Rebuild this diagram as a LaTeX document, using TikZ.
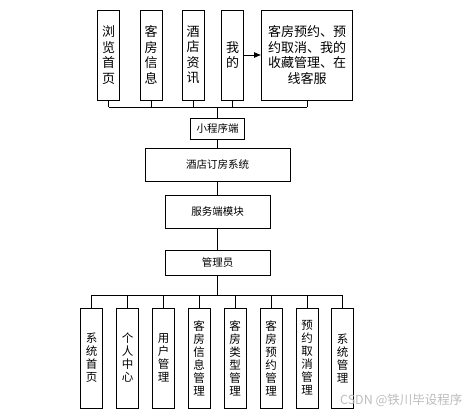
\documentclass[tikz,border=0pt]{standalone}
\usepackage{fontspec}
\newfontfamily\cjk{Noto Sans CJK SC}
\usepackage{tikz}
\usetikzlibrary{arrows.meta,positioning}
\definecolor{MarkGrey}{HTML}{BDBDBD}

\begin{document}
\begin{tikzpicture}[x=1pt,y=-1pt,
  box/.style={draw,line width=0.7pt,inner sep=0pt,align=center},
  tallbox/.style={box,minimum width=22pt,minimum height=90pt,font=\cjk\fontsize{13}{15.5}\selectfont},
  midbox/.style={box,minimum height=33pt,font=\cjk\fontsize{10.5}{12}\selectfont},
  lowbox/.style={box,minimum width=22pt,minimum height=100pt,font=\cjk\fontsize{11.5}{13}\selectfont},
  link/.style={line width=0.7pt}]
  \useasboundingbox (0,0) rectangle (474,415);
  % Baris atas: fungsi pengguna
  \foreach \i/\x/\txt in {1/108.5/{浏\\览\\首\\页},2/151/{客\\房\\信\\息},3/193/{酒\\店\\资\\讯},4/232.5/{我\\的}} {
    \node[tallbox] (t\i) at (\x,55){\txt};
  }
  \node[tallbox,minimum width=91pt,text width=84pt] (t5) at (307,55){客房预约、预\\约取消、我的\\收藏管理、在\\线客服};
  \draw[link,-{Latex[length=7pt,width=6pt]}] (t4) -- (t5);
  % Rantai tengah
  \node[midbox,minimum width=54pt,minimum height=21pt] (app) at (217.5,128.5){小程序端};
  \node[midbox,minimum width=145pt] (sys) at (217.5,164.5){酒店订房系统};
  \node[midbox,minimum width=105pt] (srv) at (217.5,211.5){服务端模块};
  \node[midbox,minimum width=105pt,minimum height=25pt] (adm) at (217.5,262.5){管理员};
  \coordinate (topbus) at (217.5,107);
  \coordinate (lowbus) at (217.5,295);
  \foreach \i in {1,...,5} {
    \draw[link] (t\i.south) -- (t\i.south |- topbus);
  }
  \draw[link] (t1.south |- topbus) -- (t5.south |- topbus);
  \draw[link] (app.north) -- (topbus);
  \draw[link] (app) -- (sys);
  \draw[link] (sys) -- (srv);
  \draw[link] (srv) -- (adm);
  \draw[link] (adm) -- (lowbus);
  % Baris bawah: fungsi admin
  \foreach \i/\x/\txt in {1/91.5/{系\\统\\首\\页},2/127.5/{个\\人\\中\\心},3/163.5/{用\\户\\管\\理},4/199/{客\\房\\信\\息\\管\\理},5/235/{客\\房\\类\\型\\管\\理},6/271/{客\\房\\预\\约\\管\\理},7/307/{预\\约\\取\\消\\管\\理},8/342.5/{系\\统\\管\\理}} {
    \node[lowbox] (b\i) at (\x,358){\txt};
    \draw[link] (b\i.north) -- (b\i.north |- lowbus);
  }
  \draw[link] (b1.north |- lowbus) -- (b8.north |- lowbus);
  \node[font=\cjk\fontsize{12.5}{14}\selectfont,text=MarkGrey,anchor=east] (mark) at (466,400){CSDN @铁川毕设程序};
\end{tikzpicture}
\end{document}
